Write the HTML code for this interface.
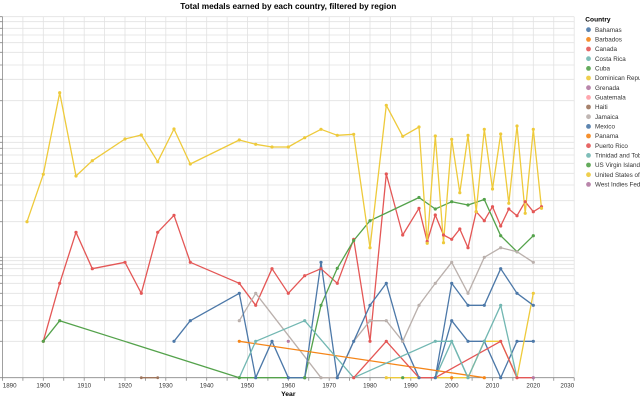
<!DOCTYPE html>
<html><head><meta charset="utf-8"><style>
html,body{margin:0;padding:0;background:#fff;}
svg{display:block;}
text{font-family:"Liberation Sans",Arial,sans-serif;}
</style></head><body>
<svg width="640" height="400" viewBox="0 0 640 400" xmlns="http://www.w3.org/2000/svg">
<rect x="0" y="0" width="640" height="400" fill="#fff"/>
<!-- grid -->
<g stroke="#e2e2e2" stroke-width="0.8" fill="none">
<path d="M22.9,16.7V377.7M43.3,16.7V377.7M63.75,16.7V377.7M84.2,16.7V377.7M104.6,16.7V377.7M125,16.7V377.7M145.4,16.7V377.7M165.8,16.7V377.7M186.3,16.7V377.7M206.7,16.7V377.7M227.1,16.7V377.7M247.5,16.7V377.7M267.9,16.7V377.7M288.3,16.7V377.7M308.75,16.7V377.7M329.2,16.7V377.7M349.6,16.7V377.7M370,16.7V377.7M390.4,16.7V377.7M410.8,16.7V377.7M431.3,16.7V377.7M451.7,16.7V377.7M472.1,16.7V377.7M492.5,16.7V377.7M512.9,16.7V377.7M533.3,16.7V377.7M553.75,16.7V377.7M574.2,16.7V377.7"/>
<path d="M2.5,16.7H574.2M2.5,21.7H574.2M2.5,28.3H574.2M2.5,35H574.2M2.5,42.7H574.2M2.5,52.3H574.2M2.5,65H574.2M2.5,79.3H574.2M2.5,100.7H574.2M2.5,136.7H574.2M2.5,142.3H574.2M2.5,148.3H574.2M2.5,155H574.2M2.5,163.3H574.2M2.5,173.3H574.2M2.5,185H574.2M2.5,200.7H574.2M2.5,221.7H574.2M2.5,257.3H574.2M2.5,260.7H574.2M2.5,264.3H574.2M2.5,268.7H574.2M2.5,275.7H574.2M2.5,283.3H574.2M2.5,293.3H574.2M2.5,305.7H574.2M2.5,320.7H574.2M2.5,341.3H574.2"/>
</g>
<!-- axes -->
<g stroke="#888" stroke-width="0.8" fill="none">
<path d="M2.5,16.7V377.7"/>
<path d="M0,16.7H2.5M0,21.7H2.5M0,28.3H2.5M0,35H2.5M0,42.7H2.5M0,52.3H2.5M0,65H2.5M0,79.3H2.5M0,100.7H2.5M0,136.7H2.5M0,142.3H2.5M0,148.3H2.5M0,155H2.5M0,163.3H2.5M0,173.3H2.5M0,185H2.5M0,200.7H2.5M0,221.7H2.5M0,257.3H2.5M0,260.7H2.5M0,264.3H2.5M0,268.7H2.5M0,275.7H2.5M0,283.3H2.5M0,293.3H2.5M0,305.7H2.5M0,320.7H2.5M0,341.3H2.5M0,377.7H2.5"/>
<path d="M2.5,377.7H574.2"/>
<path d="M2.5,377.7v3M22.9,377.7v3M43.3,377.7v3M63.75,377.7v3M84.2,377.7v3M104.6,377.7v3M125,377.7v3M145.4,377.7v3M165.8,377.7v3M186.3,377.7v3M206.7,377.7v3M227.1,377.7v3M247.5,377.7v3M267.9,377.7v3M288.3,377.7v3M308.75,377.7v3M329.2,377.7v3M349.6,377.7v3M370,377.7v3M390.4,377.7v3M410.8,377.7v3M431.3,377.7v3M451.7,377.7v3M472.1,377.7v3M492.5,377.7v3M512.9,377.7v3M533.3,377.7v3M553.75,377.7v3M574.2,377.7v3"/>
</g>
<g font-size="6.2" fill="#333" text-anchor="middle">
<text x="2.8" y="387.5" text-anchor="start">1890</text>
<text x="43.3" y="387.5">1900</text>
<text x="84.2" y="387.5">1910</text>
<text x="125" y="387.5">1920</text>
<text x="165.8" y="387.5">1930</text>
<text x="206.7" y="387.5">1940</text>
<text x="247.5" y="387.5">1950</text>
<text x="288.3" y="387.5">1960</text>
<text x="329.2" y="387.5">1970</text>
<text x="370" y="387.5">1980</text>
<text x="410.8" y="387.5">1990</text>
<text x="451.7" y="387.5">2000</text>
<text x="492.5" y="387.5">2010</text>
<text x="533.3" y="387.5">2020</text>
<text x="574.2" y="387.5" text-anchor="end">2030</text>
</g>
<text x="288.3" y="396" font-size="6.8" font-weight="bold" fill="#000" text-anchor="middle">Year</text>
<text x="288.3" y="8.8" font-size="8" font-weight="bold" fill="#000" text-anchor="middle" textLength="216" lengthAdjust="spacingAndGlyphs">Total medals earned by each country, filtered by region</text>

<!-- series -->
<g fill="none" stroke-width="1.3" stroke-linejoin="round">
<polyline stroke="#4c78a8" points="435.3,377.7 451.7,320.7 468,341.3 484.3,341.3 500.7,377.7 517,341.3 533.3,341.3"/>
<polyline stroke="#e45756" points="43.3,341.3 59.7,283.3 76,232.3 92.3,268.7 125,262.3 141.3,293.3 157.7,232.3 174,215.3 190.3,262.3 239.3,283.3 255.7,305.3 272,268.7 288.3,293.3 304.7,275.7 321,268.7 337.3,283.3 353.7,239.3 370,341.3 386.3,174 402.7,235 419,208.3 427.2,241.5 435.3,215 443.5,235 451.7,239.3 459.8,229 468,247.7 476.2,211.7 484.3,220.7 492.5,206.7 500.7,226 508.8,209 517,215.7 525.2,201.7 533.3,211.7 541.5,206.7"/>
<polyline stroke="#72b7b2" points="435.3,377.7 451.7,341.3 468,377.7"/>
<polyline stroke="#54a24b" points="43.3,341.3 59.7,320.7 239.3,377.7 304.7,377.7 321,305.3 337.3,268.3 353.7,240.5 370,220.7 419,197.5 435.3,209 451.7,201.7 468,205 484.3,199.5 500.7,235.7 517,251.7 533.3,235.7"/>
<polyline stroke="#eeca3b" points="386.3,377.7 468,377.7 484.3,341.3 500.7,341.3 517,377.7 533.3,293.3"/>
<polyline stroke="#9d755d" points="141.3,377.7 157.7,377.7"/>
<polyline stroke="#bab0ac" points="239.3,320.7 255.7,293.3 321,377.7 337.3,377.7 353.7,341.3 370,320.7 386.3,320.7 402.7,341.3 419,305.3 435.3,283.3 451.7,262.3 468,293.3 484.3,257.3 500.7,247.7 517,251.7 533.3,262.3"/>
<polyline stroke="#4c78a8" points="174,341.3 190.3,320.7 239.3,293.3 255.7,377.7 272,341.3 288.3,377.7 304.7,377.7 321,262.3 337.3,377.7 353.7,341.3 370,305.3 386.3,283.3 402.7,341.3 419,377.7 435.3,377.7 451.7,283.3 468,305.3 484.3,305.3 500.7,268.7 517,293.3 533.3,305.3"/>
<polyline stroke="#f58518" points="239.3,341.3 484.3,377.7"/>
<polyline stroke="#e45756" points="353.7,377.7 386.3,341.3 419,377.7 435.3,377.7 500.7,341.3 517,377.7 533.3,377.7"/>
<polyline stroke="#72b7b2" points="239.3,377.7 255.7,341.3 304.7,320.7 353.7,377.7 435.3,341.3 451.7,341.3 468,377.7 484.3,341.3 500.7,305.3 517,377.7"/>
<polyline stroke="#eeca3b" points="27,221.7 43.3,174.3 59.7,92.7 76,176 92.3,160.7 125,139 141.3,135 157.7,161.7 174,129 190.3,164 239.3,140 255.7,144.3 272,147 288.3,147 304.7,137.7 321,129.3 337.3,135.3 353.7,134.3 370,247.7 386.3,105.3 402.7,136.3 419,127 427.2,243.3 435.3,136 443.5,242.7 451.7,139.3 459.8,192.7 468,135.3 476.2,211.7 484.3,129.3 492.5,189 500.7,134 508.8,203.3 517,126 525.2,213.3 533.3,129.3 541.5,208.3"/>
</g>
<!-- points -->
<g>
<g fill="#4c78a8"><circle cx="435.3" cy="377.7" r="1.6"/><circle cx="451.7" cy="320.7" r="1.6"/><circle cx="468" cy="341.3" r="1.6"/><circle cx="484.3" cy="341.3" r="1.6"/><circle cx="500.7" cy="377.7" r="1.6"/><circle cx="517" cy="341.3" r="1.6"/><circle cx="533.3" cy="341.3" r="1.6"/>
<circle cx="174" cy="341.3" r="1.6"/><circle cx="190.3" cy="320.7" r="1.6"/><circle cx="239.3" cy="293.3" r="1.6"/><circle cx="255.7" cy="377.7" r="1.6"/><circle cx="272" cy="341.3" r="1.6"/><circle cx="288.3" cy="377.7" r="1.6"/><circle cx="304.7" cy="377.7" r="1.6"/><circle cx="321" cy="262.3" r="1.6"/><circle cx="337.3" cy="377.7" r="1.6"/><circle cx="353.7" cy="341.3" r="1.6"/><circle cx="370" cy="305.3" r="1.6"/><circle cx="386.3" cy="283.3" r="1.6"/><circle cx="402.7" cy="341.3" r="1.6"/><circle cx="419" cy="377.7" r="1.6"/><circle cx="451.7" cy="283.3" r="1.6"/><circle cx="468" cy="305.3" r="1.6"/><circle cx="484.3" cy="305.3" r="1.6"/><circle cx="500.7" cy="268.7" r="1.6"/><circle cx="517" cy="293.3" r="1.6"/><circle cx="533.3" cy="305.3" r="1.6"/></g>
<g fill="#e45756"><circle cx="43.3" cy="341.3" r="1.6"/><circle cx="59.7" cy="283.3" r="1.6"/><circle cx="76" cy="232.3" r="1.6"/><circle cx="92.3" cy="268.7" r="1.6"/><circle cx="125" cy="262.3" r="1.6"/><circle cx="141.3" cy="293.3" r="1.6"/><circle cx="157.7" cy="232.3" r="1.6"/><circle cx="174" cy="215.3" r="1.6"/><circle cx="190.3" cy="262.3" r="1.6"/><circle cx="239.3" cy="283.3" r="1.6"/><circle cx="255.7" cy="305.3" r="1.6"/><circle cx="272" cy="268.7" r="1.6"/><circle cx="288.3" cy="293.3" r="1.6"/><circle cx="304.7" cy="275.7" r="1.6"/><circle cx="321" cy="268.7" r="1.6"/><circle cx="337.3" cy="283.3" r="1.6"/><circle cx="353.7" cy="239.3" r="1.6"/><circle cx="370" cy="341.3" r="1.6"/><circle cx="386.3" cy="174" r="1.6"/><circle cx="402.7" cy="235" r="1.6"/><circle cx="419" cy="208.3" r="1.6"/><circle cx="427.2" cy="241.5" r="1.6"/><circle cx="435.3" cy="215" r="1.6"/><circle cx="443.5" cy="235" r="1.6"/><circle cx="451.7" cy="239.3" r="1.6"/><circle cx="459.8" cy="229" r="1.6"/><circle cx="468" cy="247.7" r="1.6"/><circle cx="476.2" cy="211.7" r="1.6"/><circle cx="484.3" cy="220.7" r="1.6"/><circle cx="492.5" cy="206.7" r="1.6"/><circle cx="500.7" cy="226" r="1.6"/><circle cx="508.8" cy="209" r="1.6"/><circle cx="517" cy="215.7" r="1.6"/><circle cx="525.2" cy="201.7" r="1.6"/><circle cx="533.3" cy="211.7" r="1.6"/><circle cx="541.5" cy="206.7" r="1.6"/>
<circle cx="353.7" cy="377.7" r="1.6"/><circle cx="386.3" cy="341.3" r="1.6"/><circle cx="500.7" cy="341.3" r="1.6"/><circle cx="517" cy="377.7" r="1.6"/></g>
<g fill="#54a24b"><circle cx="43.3" cy="341.3" r="1.6"/><circle cx="59.7" cy="320.7" r="1.6"/><circle cx="239.3" cy="377.7" r="1.6"/><circle cx="304.7" cy="377.7" r="1.6"/><circle cx="321" cy="305.3" r="1.6"/><circle cx="337.3" cy="268.3" r="1.6"/><circle cx="353.7" cy="240.5" r="1.6"/><circle cx="370" cy="220.7" r="1.6"/><circle cx="419" cy="197.5" r="1.6"/><circle cx="435.3" cy="209" r="1.6"/><circle cx="451.7" cy="201.7" r="1.6"/><circle cx="468" cy="205" r="1.6"/><circle cx="484.3" cy="199.5" r="1.6"/><circle cx="500.7" cy="235.7" r="1.6"/><circle cx="517" cy="251.7" r="1.6"/><circle cx="533.3" cy="235.7" r="1.6"/><circle cx="402.7" cy="377.7" r="1.6"/></g>
<g fill="#bab0ac"><circle cx="239.3" cy="320.7" r="1.6"/><circle cx="255.7" cy="293.3" r="1.6"/><circle cx="321" cy="377.7" r="1.6"/><circle cx="370" cy="320.7" r="1.6"/><circle cx="386.3" cy="320.7" r="1.6"/><circle cx="402.7" cy="341.3" r="1.6"/><circle cx="419" cy="305.3" r="1.6"/><circle cx="435.3" cy="283.3" r="1.6"/><circle cx="451.7" cy="262.3" r="1.6"/><circle cx="468" cy="293.3" r="1.6"/><circle cx="484.3" cy="257.3" r="1.6"/><circle cx="500.7" cy="247.7" r="1.6"/><circle cx="517" cy="251.7" r="1.6"/><circle cx="533.3" cy="262.3" r="1.6"/></g>
<g fill="#72b7b2"><circle cx="255.7" cy="341.3" r="1.6"/><circle cx="304.7" cy="320.7" r="1.6"/><circle cx="435.3" cy="341.3" r="1.6"/><circle cx="451.7" cy="341.3" r="1.6"/><circle cx="468" cy="377.7" r="1.6"/><circle cx="484.3" cy="341.3" r="1.6"/><circle cx="500.7" cy="305.3" r="1.6"/></g>
<g fill="#f58518"><circle cx="239.3" cy="341.3" r="1.6"/><circle cx="484.3" cy="377.7" r="1.6"/><circle cx="451.7" cy="377.7" r="1.6"/></g>
<g fill="#9d755d"><circle cx="141.3" cy="377.7" r="1.4"/><circle cx="157.7" cy="377.7" r="1.4"/></g>
<g fill="#b279a2"><circle cx="288.3" cy="341.3" r="1.6"/><circle cx="533.3" cy="377.7" r="1.6"/></g>
<g fill="#eeca3b"><circle cx="386.3" cy="377.7" r="1.6"/><circle cx="533.3" cy="293.3" r="1.6"/>
<circle cx="27" cy="221.7" r="1.6"/><circle cx="43.3" cy="174.3" r="1.6"/><circle cx="59.7" cy="92.7" r="1.6"/><circle cx="76" cy="176" r="1.6"/><circle cx="92.3" cy="160.7" r="1.6"/><circle cx="125" cy="139" r="1.6"/><circle cx="141.3" cy="135" r="1.6"/><circle cx="157.7" cy="161.7" r="1.6"/><circle cx="174" cy="129" r="1.6"/><circle cx="190.3" cy="164" r="1.6"/><circle cx="239.3" cy="140" r="1.6"/><circle cx="255.7" cy="144.3" r="1.6"/><circle cx="272" cy="147" r="1.6"/><circle cx="288.3" cy="147" r="1.6"/><circle cx="304.7" cy="137.7" r="1.6"/><circle cx="321" cy="129.3" r="1.6"/><circle cx="337.3" cy="135.3" r="1.6"/><circle cx="353.7" cy="134.3" r="1.6"/><circle cx="370" cy="247.7" r="1.6"/><circle cx="386.3" cy="105.3" r="1.6"/><circle cx="402.7" cy="136.3" r="1.6"/><circle cx="419" cy="127" r="1.6"/><circle cx="427.2" cy="243.3" r="1.6"/><circle cx="435.3" cy="136" r="1.6"/><circle cx="443.5" cy="242.7" r="1.6"/><circle cx="451.7" cy="139.3" r="1.6"/><circle cx="459.8" cy="192.7" r="1.6"/><circle cx="468" cy="135.3" r="1.6"/><circle cx="476.2" cy="211.7" r="1.6"/><circle cx="484.3" cy="129.3" r="1.6"/><circle cx="492.5" cy="189" r="1.6"/><circle cx="500.7" cy="134" r="1.6"/><circle cx="508.8" cy="203.3" r="1.6"/><circle cx="517" cy="126" r="1.6"/><circle cx="525.2" cy="213.3" r="1.6"/><circle cx="533.3" cy="129.3" r="1.6"/><circle cx="541.5" cy="208.3" r="1.6"/></g>
</g>

<!-- legend -->
<text x="585.3" y="21.3" font-size="6.6" font-weight="bold" fill="#000">Country</text>
<g opacity="0.9">
<circle cx="588.5" cy="29.7" r="2.4" fill="#4c78a8"/>
<circle cx="588.5" cy="39.4" r="2.4" fill="#f58518"/>
<circle cx="588.5" cy="49" r="2.4" fill="#e45756"/>
<circle cx="588.5" cy="58.7" r="2.4" fill="#72b7b2"/>
<circle cx="588.5" cy="68.4" r="2.4" fill="#54a24b"/>
<circle cx="588.5" cy="78" r="2.4" fill="#eeca3b"/>
<circle cx="588.5" cy="87.7" r="2.4" fill="#b279a2"/>
<circle cx="588.5" cy="97.4" r="2.4" fill="#ff9da6"/>
<circle cx="588.5" cy="107" r="2.4" fill="#9d755d"/>
<circle cx="588.5" cy="116.7" r="2.4" fill="#bab0ac"/>
<circle cx="588.5" cy="126.4" r="2.4" fill="#4c78a8"/>
<circle cx="588.5" cy="136" r="2.4" fill="#f58518"/>
<circle cx="588.5" cy="145.7" r="2.4" fill="#e45756"/>
<circle cx="588.5" cy="155.4" r="2.4" fill="#72b7b2"/>
<circle cx="588.5" cy="165" r="2.4" fill="#54a24b"/>
<circle cx="588.5" cy="174.7" r="2.4" fill="#eeca3b"/>
<circle cx="588.5" cy="184.4" r="2.4" fill="#b279a2"/>
</g>
<g font-size="6.3" fill="#333">
<text x="595" y="31.9">Bahamas</text>
<text x="595" y="41.6">Barbados</text>
<text x="595" y="51.2">Canada</text>
<text x="595" y="60.9">Costa Rica</text>
<text x="595" y="70.6">Cuba</text>
<text x="595" y="80.2">Dominican Republic</text>
<text x="595" y="89.9">Grenada</text>
<text x="595" y="99.6">Guatemala</text>
<text x="595" y="109.2">Haiti</text>
<text x="595" y="118.9">Jamaica</text>
<text x="595" y="128.6">Mexico</text>
<text x="595" y="138.2">Panama</text>
<text x="595" y="147.9">Puerto Rico</text>
<text x="595" y="157.6">Trinidad and Tobago</text>
<text x="595" y="167.2">US Virgin Islands</text>
<text x="595" y="176.9">United States of America</text>
<text x="595" y="186.6">West Indies Federation</text>
</g>
</svg>
</body></html>
